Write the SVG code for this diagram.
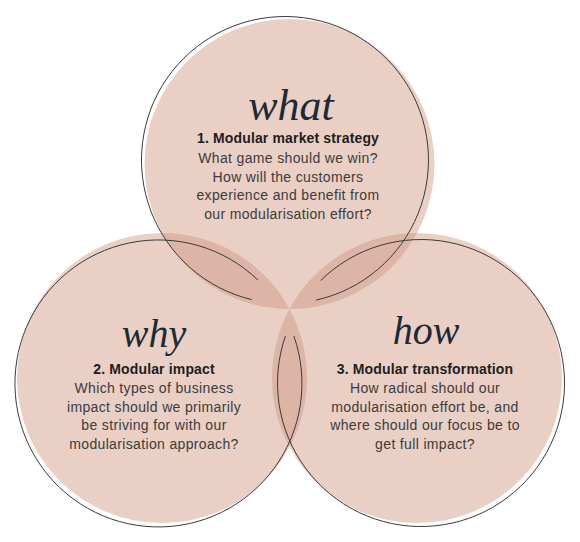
<svg xmlns="http://www.w3.org/2000/svg" width="580" height="542" viewBox="0 0 580 542">
<style>
.fill{fill:#E9CFC4;}
.lens{fill:#DDB5A6;}
.ring{fill:none;stroke:#3a3a3a;stroke-width:1;}
.script{font-family:"Liberation Serif",serif;font-style:italic;font-size:44px;fill:#1c2b33;text-anchor:middle;}
.script.sm{font-size:40px;}
.title{font-family:"Liberation Sans",Arial,sans-serif;font-weight:bold;font-size:14px;letter-spacing:0.15px;fill:#1e1e1e;text-anchor:middle;}
.body{font-family:"Liberation Sans",Arial,sans-serif;font-size:14px;letter-spacing:0.35px;fill:#3c3c3c;text-anchor:middle;}
</style>
<rect width="580" height="542" fill="#ffffff"/>
<g id="discs">
<circle id="disc-what" class="fill" cx="289.5" cy="164" r="145"/>
<circle id="disc-why" class="fill" cx="162" cy="378" r="145"/>
<circle id="disc-how" class="fill" cx="417" cy="378" r="145"/>
</g>
<g id="overlaps">
<path class="lens" d="M289.5,309 A145,145 0 0 1 162,233 A145,145 0 0 1 289.5,309 Z"/>
<path class="lens" d="M289.5,309 A145,145 0 0 0 417,233 A145,145 0 0 0 289.5,309 Z"/>
<path class="lens" d="M289.5,309 A145,145 0 0 1 289.5,447 A145,145 0 0 1 289.5,309 Z"/>
</g>
<g id="outlines">
<path class="ring" d="M251.75,299.6 A143.5,143.5 0 1 1 316.05,300.1"/>
<path class="ring" d="M293.9,336.1 A143.5,143.5 0 1 1 258,280.1"/>
<path class="ring" d="M320.6,280.5 A143.5,143.5 0 1 1 285.4,336.1"/>
</g>
<g id="node-what">
<text class="script" x="291" y="120">what</text>
<text class="title" x="288" y="143">1. Modular market strategy</text>
<text class="body" x="288" y="162.5">What game should we win?</text>
<text class="body" x="288" y="181.5">How will the customers</text>
<text class="body" x="288" y="200">experience and benefit from</text>
<text class="body" x="288" y="218.5">our modularisation effort?</text>
</g>
<g id="node-why">
<text class="script sm" x="154" y="347">why</text>
<text class="title" x="154" y="373.5">2. Modular impact</text>
<text class="body" x="154" y="392.5">Which types of business</text>
<text class="body" x="154" y="411.5">impact should we primarily</text>
<text class="body" x="154" y="430">be striving for with our</text>
<text class="body" x="154" y="448.5">modularisation approach?</text>
</g>
<g id="node-how">
<text class="script sm" x="426" y="344">how</text>
<text class="title" x="425" y="373.5">3. Modular transformation</text>
<text class="body" x="425" y="392.5">How radical should our</text>
<text class="body" x="425" y="411.5">modularisation effort be, and</text>
<text class="body" x="425" y="430">where should our focus be to</text>
<text class="body" x="425" y="448.5">get full impact?</text>
</g>
</svg>
